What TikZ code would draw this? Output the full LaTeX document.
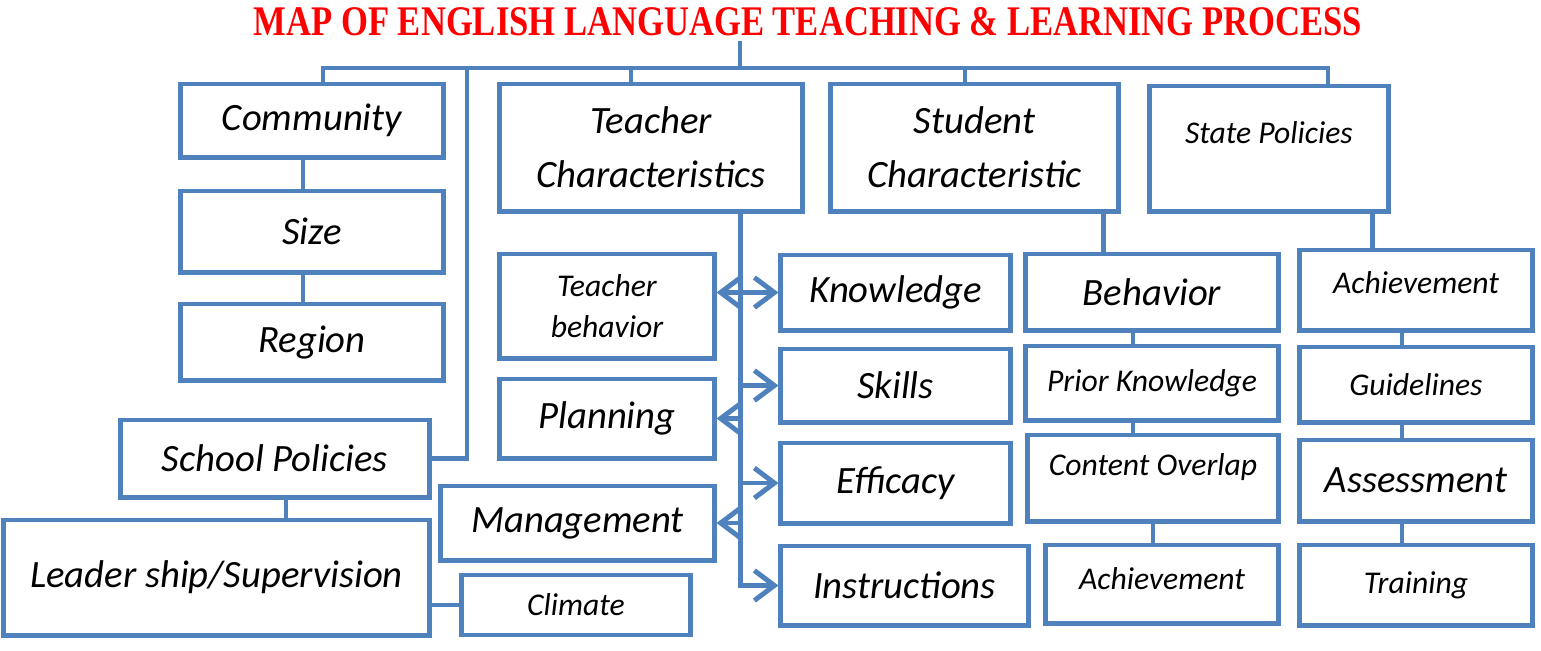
\documentclass[tikz,border=0pt]{standalone}
\usepackage{fontspec}
\setmainfont{Carlito}
\newfontfamily\titlefont{Liberation Serif}
\usepackage{graphicx}
\usetikzlibrary{arrows.meta}
\definecolor{mapblue}{RGB}{79,129,189}
\tikzset{box/.style={draw=mapblue,line width=1.4pt,rectangle,inner sep=0pt,align=center},
	bigtext/.style={font=\itshape\fontsize{11}{15.3}\selectfont},
	smalltext/.style={font=\itshape\fontsize{9}{11.7}\selectfont},
	link/.style={draw=mapblue,line width=1.4pt},
	onetip/.style={-{Straight Barb[length=2mm,width=3mm]}},
	twotip/.style={{Straight Barb[length=2mm,width=3mm]}-{Straight Barb[length=2mm,width=3mm]}}}

\begin{document}
\begin{tikzpicture}[x=0.01cm,y=-0.01cm]
	\useasboundingbox (0,0) rectangle (1541,650);
	\node[text=red,inner sep=0pt] (title) at (808,22)
		{\titlefont\bfseries\fontsize{12}{12}\selectfont\scalebox{0.82}[1]{MAP OF ENGLISH LANGUAGE TEACHING \& LEARNING PROCESS}};
	\begin{scope}[every node/.style={box,bigtext}]
		\node[minimum width=2.62cm,minimum height=0.73cm] (comm) at (312,120.5) {Community};
		\node[minimum width=2.62cm,minimum height=0.81cm] (size) at (312,231.5) {Size};
		\node[minimum width=2.62cm,minimum height=0.76cm] (region) at (312,342) {Region};
		\node[minimum width=3.08cm,minimum height=0.77cm] (school) at (275,458.5) {School Policies};
		\node[minimum width=4.25cm,minimum height=1.15cm] (leader) at (216.5,577.5) {Leader ship/Supervision};
		\node[minimum width=3.02cm,minimum height=1.27cm] (teachchar) at (651,147.5) {Teacher\\Characteristics};
		\node[minimum width=2.14cm,minimum height=0.79cm] (plan) at (607,418.5) {Planning};
		\node[minimum width=2.73cm,minimum height=0.74cm] (manage) at (577.5,523) {Management};
		\node[minimum width=2.29cm,minimum height=0.75cm] (know) at (895.5,292.5) {Knowledge};
		\node[minimum width=2.29cm,minimum height=0.73cm] (skills) at (895.5,385.5) {Skills};
		\node[minimum width=2.29cm,minimum height=0.80cm] (effic) at (895.5,483) {Efficacy};
		\node[minimum width=2.47cm,minimum height=0.79cm] (instr) at (904.5,585.5) {Instructions};
		\node[minimum width=2.87cm,minimum height=1.27cm] (studchar) at (974.5,147.5) {Student\\Characteristic};
		\node[minimum width=2.52cm,minimum height=0.76cm] (behav) at (1152,292) {Behavior};
		\node[minimum width=2.32cm,minimum height=0.81cm] (assess) at (1416,480.5) {Assessment};
	\end{scope}
	\begin{scope}[every node/.style={box,smalltext}]
		\node[minimum width=2.28cm,minimum height=0.60cm] (climate) at (576,605) {Climate};
		\node[minimum width=2.14cm,minimum height=1.04cm] (tbeh) at (607,306) {Teacher\\behavior};
		\node[minimum width=2.52cm,minimum height=0.74cm] (prior) at (1152,383) {Prior Knowledge};
		\node[minimum width=2.50cm,minimum height=0.86cm,text depth=7.4pt] (content) at (1153,478) {Content Overlap};
		\node[minimum width=2.32cm,minimum height=0.78cm,text depth=3.4pt] (stachieve) at (1162,584) {Achievement};
		\node[minimum width=2.38cm,minimum height=1.25cm,text depth=9pt] (state) at (1269,148.5) {State Policies};
		\node[minimum width=2.32cm,minimum height=0.80cm,text depth=4pt] (achieve) at (1416,290) {Achievement};
		\node[minimum width=2.32cm,minimum height=0.75cm] (guide) at (1416,384.5) {Guidelines};
		\node[minimum width=2.32cm,minimum height=0.80cm] (train) at (1416,585) {Training};
	\end{scope}
	% top bar
	\coordinate (jtop) at (740,68);
	\coordinate (jcomm) at (323,68);
	\coordinate (jschool) at (467,68);
	\coordinate (jteach) at (631,68);
	\coordinate (jstud) at (965,68);
	\coordinate (jstate) at (1328,68);
	\draw[link] ([yshift=-0.04cm]title.south -| jtop) -- (jtop);
	\draw[link] (jcomm |- comm.north) -- (jcomm) -- (jstate) -- (jstate |- state.north);
	\draw[link] (jteach) -- (jteach |- teachchar.north);
	\draw[link] (jstud) -- (jstud |- studchar.north);
	\draw[link] (jschool) |- (school.east);
	% left column
	\draw[link] ([xshift=-0.09cm]comm.south) -- ([xshift=-0.09cm]size.north);
	\draw[link] ([xshift=-0.09cm]size.south) -- ([xshift=-0.09cm]region.north);
	\draw[link] ([xshift=0.11cm]school.south) -- ([xshift=0.11cm]school.south |- leader.north);
	\draw[link] (leader.east |- climate.west) -- (climate.west);
	% teacher
	\coordinate (spine) at ([xshift=0.89cm]teachchar.south);
	\draw[link,onetip] (spine) |- (instr.west);
	\draw[link,twotip] (tbeh.east |- know.west) -- (know.west);
	\foreach \n in {skills,effic}
		\draw[link,onetip] (spine |- \n.west) -- (\n.west);
	\foreach \n in {plan,manage}
		\draw[link,onetip] (spine |- \n.east) -- (\n.east);
	% student
	\coordinate (sbranch) at ([xshift=1.285cm]studchar.south);
	\draw[link] (sbranch) -- (sbranch |- behav.north);
	\draw[link] ([xshift=-0.19cm]behav.south) -- ([xshift=-0.19cm]prior.north);
	\draw[link] ([xshift=-0.19cm]prior.south) -- ([xshift=-0.19cm]prior.south |- content.north);
	\draw[link] (content.south) -- (content.south |- stachieve.north);
	% state
	\coordinate (pbranch) at ([xshift=1.03cm]state.south);
	\draw[link] (pbranch) -- (pbranch |- achieve.north);
	\foreach \a/\b in {achieve/guide,guide/assess,assess/train}
		\draw[link] ([xshift=-0.14cm]\a.south) -- ([xshift=-0.14cm]\a.south |- \b.north);
\end{tikzpicture}
\end{document}
